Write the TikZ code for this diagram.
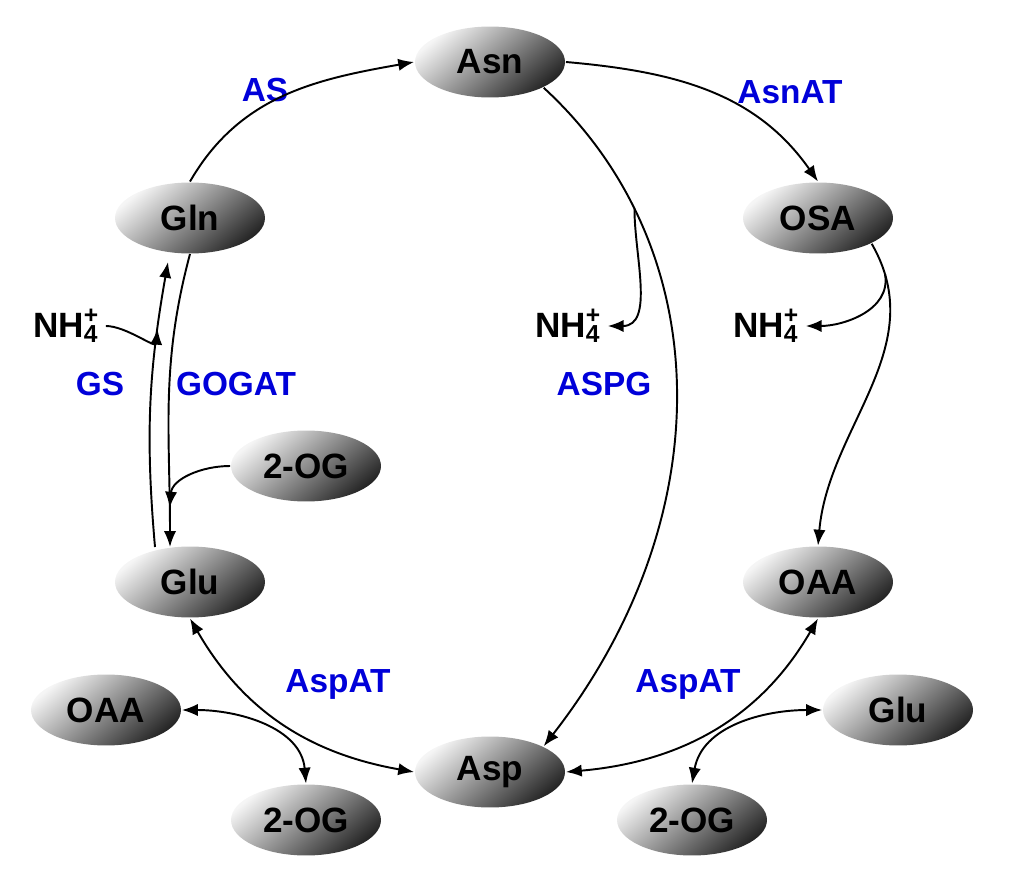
\documentclass[tikz,border=0pt]{standalone}
\usepackage{fontspec}
\setmainfont{Liberation Sans}
\usetikzlibrary{arrows,arrows.meta,shapes,positioning}
\begin{document}
\begin{tikzpicture}[x=0.02cm,y=-0.02cm,
	met/.style = {ellipse, minimum width=3cm, minimum height=1.42cm, inner sep=0pt,
		shade, shading=axis, top color=gray!8, bottom color=black!85, shading angle=40,
		font=\fontsize{20}{24}\selectfont\bfseries},
	enz/.style = {text=blue!85!black, font=\fontsize{19}{22}\selectfont\bfseries},
	ion/.style = {font=\fontsize{20}{24}\selectfont\bfseries},
	>={Latex[length=9pt,width=7pt]}, line width=1.1pt]
	\useasboundingbox (0,0) rectangle (1024,878);
	% metabolites
	\node[met] (asn) at (490,62) {Asn};
	\node[met] (gln) at (190,218) {Gln};
	\node[met] (osa) at (818,218) {OSA};
	\node[met] (og1) at (306,466) {2-OG};
	\node[met] (glu) at (190,582) {Glu};
	\node[met] (oaa) at (818,582) {OAA};
	\node[met] (oaa2) at (106,710) {OAA};
	\node[met] (glu2) at (898,710) {Glu};
	\node[met] (asp) at (490,772) {Asp};
	\node[met] (og2) at (306,820) {2-OG};
	\node[met] (og3) at (692,820) {2-OG};
	% enzymes and ions
	\node[enz] (as) at (265,90) {AS};
	\node[enz] (asnat) at (790,92) {AsnAT};
	\node[enz] (gs) at (100,384) {GS};
	\node[enz] (gogat) at (236,384) {GOGAT};
	\node[enz] (aspg) at (604,384) {ASPG};
	\node[enz] (aspat1) at (338,684) {AspAT};
	\node[enz] (aspat2) at (688,684) {AspAT};
	\node[ion] (nh1) at (66,326) {NH\rlap{\textsubscript{4}}\textsuperscript{+}};
	\node[ion] (nh2) at (568,326) {NH\rlap{\textsubscript{4}}\textsuperscript{+}};
	\node[ion] (nh3) at (766,326) {NH\rlap{\textsubscript{4}}\textsuperscript{+}};
	% reactions
	\coordinate (g1) at (155,547);
	\coordinate (g2) at (168,262);
	\coordinate (g3) at (190,254);
	\coordinate (g4) at (170,547);
	\draw[->] (gln.north) to[out=60, in=190] (asn.west);
	\draw[->] (asn.east) to[out=-5, in=125] (osa.north);
	\draw[->] (asn.south east) .. controls (720,250) and (720,520) .. coordinate[pos=0.22] (b1) (asp.north east);
	\draw[->] (b1) to[out=-90, in=0] (nh2.east);
	\draw[->] (osa.south east) to[out=-60, in=85] coordinate[pos=0.1] (b2) (oaa.north);
	\draw[->] (b2) to[out=-80, in=0] (nh3.east);
	\draw[->] (g1) to[out=95, in=-100] coordinate[pos=0.78] (b3) (g2);
	\draw[->] (nh1.east) to[out=0, in=-95] (b3);
	\draw[->] (g3) to[out=-105, in=90] coordinate[pos=0.88] (b4) (g4);
	\draw[->] (og1.west) to[out=180, in=85] (b4);
	\draw[<->] (glu.south) to[out=-60, in=170] (asp.west);
	\draw[<->] (oaa2.east) to[out=0, in=95] (og2.north);
	\draw[<->] (asp.east) to[out=5, in=-120] (oaa.south);
	\draw[<->] (glu2.west) to[out=180, in=80] (og3.north);
\end{tikzpicture}
\end{document}
